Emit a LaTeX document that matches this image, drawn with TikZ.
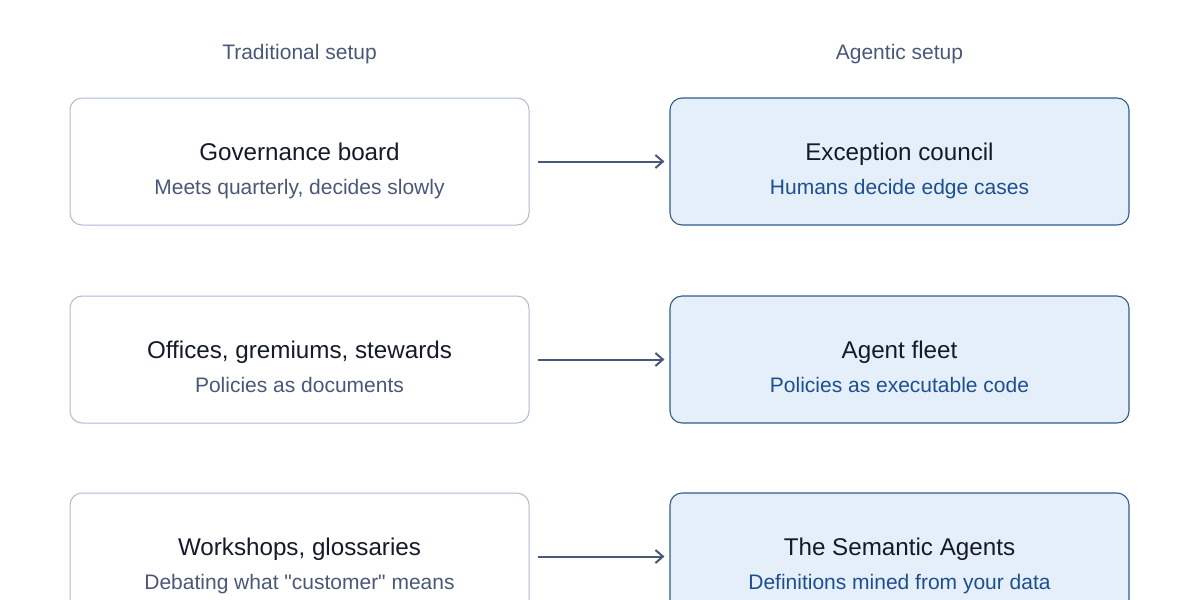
\documentclass[tikz,border=0pt]{standalone}
\usepackage{fontspec}
\setmainfont{Liberation Sans}[Ligatures=TeXOff]
\usetikzlibrary{arrows.meta, positioning}
\definecolor{slatetext}{HTML}{4A5878}
\definecolor{darktext}{HTML}{141A2A}
\definecolor{oldedge}{HTML}{AEBBD2}
\definecolor{newedge}{HTML}{2F5C8C}
\definecolor{newfill}{HTML}{E5EFFA}
\definecolor{newsub}{HTML}{1D4F8E}

\begin{document}
\begin{tikzpicture}[
  x=1pt, y=-1pt,
  box/.style={rectangle, rounded corners=12pt, minimum width=459pt, minimum height=127pt, inner sep=0pt},
  oldbox/.style={box, draw=oldedge, line width=1pt, fill=white},
  newbox/.style={box, draw=newedge, line width=1.1pt, fill=newfill},
  head/.style={font=\fontsize{21}{25}\selectfont, text=slatetext, anchor=base},
  title/.style={font=\fontsize{24.2}{28}\selectfont, text=darktext, anchor=base},
  sub/.style={font=\fontsize{21}{25}\selectfont, anchor=base},
  arr/.style={-{Straight Barb[length=7.5pt, width=13pt]}, line width=2pt, slatetext, shorten <=8pt, shorten >=5pt}
]

\useasboundingbox (0,0) rectangle (1200,600);
\clip (0,0) rectangle (1200,600);

%% ===== column headings =====
\node[head] (trad) at (299.5, 59.5) {Traditional setup};
\node[head] (agen) at (899.5, 59.5) {Agentic setup};

%% ===== row 1 =====
\node[oldbox] (gov) at (299.5, 161.5) {};
\node[title] (govt) at ([yshift=1.5pt]gov.center) {Governance board};
\node[sub, text=slatetext] (govs) at ([yshift=-32.5pt]gov.center) {Meets quarterly, decides slowly};

\node[newbox] (exc) at (899.5, 161.5) {};
\node[title] (exct) at ([yshift=1.5pt]exc.center) {Exception council};
\node[sub, text=newsub] (excs) at ([yshift=-32.5pt]exc.center) {Humans decide edge cases};

\draw[arr] (gov) -- (exc);

%% ===== row 2 =====
\node[oldbox] (off) at (299.5, 359.5) {};
\node[title] (offt) at ([yshift=1.5pt]off.center) {Offices, gremiums, stewards};
\node[sub, text=slatetext] (offs) at ([yshift=-32.5pt]off.center) {Policies as documents};

\node[newbox] (flt) at (899.5, 359.5) {};
\node[title] (fltt) at ([yshift=1.5pt]flt.center) {Agent fleet};
\node[sub, text=newsub] (flts) at ([yshift=-32.5pt]flt.center) {Policies as executable code};

\draw[arr] (off) -- (flt);

%% ===== row 3 =====
\node[oldbox] (wks) at (299.5, 556.5) {};
\node[title] (wkst) at ([yshift=1.5pt]wks.center) {Workshops, glossaries};
\node[sub, text=slatetext] (wkss) at ([yshift=-32.5pt]wks.center) {Debating what "customer" means};

\node[newbox] (sem) at (899.5, 556.5) {};
\node[title] (semt) at ([yshift=1.5pt]sem.center) {The Semantic Agents};
\node[sub, text=newsub] (sems) at ([yshift=-32.5pt]sem.center) {Definitions mined from your data};

\draw[arr] (wks) -- (sem);

\end{tikzpicture}
\end{document}
